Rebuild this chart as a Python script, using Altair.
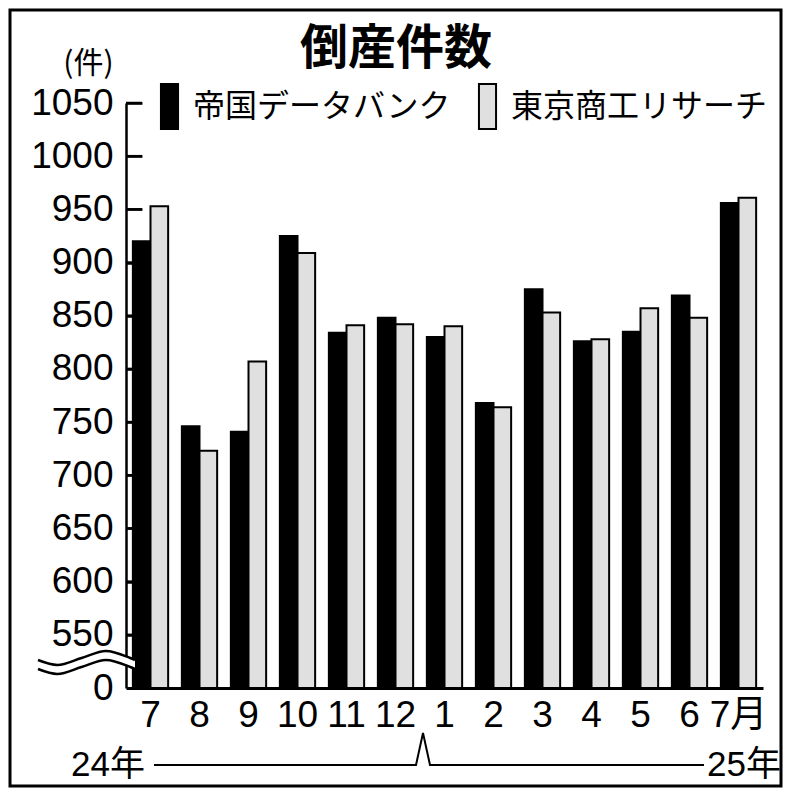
import altair as alt
import pandas as pd

# ---- data ----
months = ["7", "8", "9", "10", "11", "12", "1", "2", "3", "4", "5", "6", "7月"]
tdb = [920, 746, 741, 925, 834, 848, 830, 768, 875, 826, 835, 869, 956]
tsr = [953, 723, 807, 909, 841, 842, 840, 764, 853, 828, 857, 848, 961]
series_names = ["帝国データバンク", "東京商工リサーチ"]
series_colors = ["#000000", "#e0e0e0"]
tick_values = [500, 550, 600, 650, 700, 750, 800, 850, 900, 950, 1000, 1050]
title_text = ["倒産件数"]
unit_text = "(件)"
year_texts = ["24年", "25年"]

NUM_FONT = "Liberation Sans, Noto Sans CJK JP"
JP_FONT = "Noto Sans CJK JP"

W, H = 637, 585

rows = []
for i, m in enumerate(months):
    rows.append({"month": m, "series": series_names[0], "value": tdb[i]})
    rows.append({"month": m, "series": series_names[1], "value": tsr[i]})
df = pd.DataFrame(rows)

yscale = alt.Scale(domain=[500, 1050], nice=False, zero=False)

bars = alt.Chart(df).mark_bar(stroke="black", strokeWidth=2).encode(
    x=alt.X("month:N", sort=months,
            scale=alt.Scale(paddingInner=0.28, paddingOuter=0.14),
            axis=alt.Axis(title=None, labelAngle=0, ticks=False, domainWidth=3,
                          domainColor="black", labelFont=NUM_FONT, labelFontSize=37,
                          labelColor="black", labelPadding=9)),
    xOffset=alt.XOffset("series:N", sort=series_names),
    y=alt.Y("value:Q", scale=yscale,
            axis=alt.Axis(values=tick_values, ticks=False, grid=False, domainWidth=2.5,
                          domainColor="black", labelFont=NUM_FONT, labelFontSize=37,
                          labelColor="black", labelPadding=13, orient="left",
                          labelExpr="datum.value == 500 ? '0' : format(datum.value, 'd')",
                          title=unit_text, titleAngle=0, titleX=-38, titleY=-40,
                          titleAlign="center", titleBaseline="middle",
                          titleFont=JP_FONT, titleFontSize=30, titleFontWeight="normal",
                          titleColor="black")),
    y2=alt.datum(500),
    color=alt.Color("series:N",
                    scale=alt.Scale(domain=series_names, range=series_colors),
                    legend=alt.Legend(title=None, orient="none", legendX=20, legendY=-20,
                                      direction="horizontal",
                                      symbolType="M-0.38,-1H0.38V1H-0.38Z",
                                      symbolSize=2025, symbolStrokeColor="black",
                                      symbolStrokeWidth=2, symbolOpacity=1,
                                      labelFont=JP_FONT, labelFontSize=32,
                                      labelColor="black", labelOffset=0,
                                      labelLimit=400, columnPadding=14, padding=0)),
)

# inward ticks: a label-less right-oriented axis moved onto the left edge,
# so its ticks point into the plot
ticks_df = pd.DataFrame({"value": tick_values[1:]})
ticks_df["x0"] = 0
ticks_df["x1"] = 16
ticks = alt.Chart(ticks_df).mark_point(opacity=0).encode(
    y=alt.Y("value:Q", scale=yscale,
            axis=alt.Axis(orient="right", values=tick_values[1:], offset=-W, tickSize=16,
                          tickWidth=2.5, tickColor="black", labels=False, domain=False,
                          grid=False, title=None)),
)
tick_rules = alt.Chart(ticks_df).mark_rule(color="black", strokeWidth=2.5).encode(
    y=alt.Y("value:Q", scale=yscale, axis=None),
    x=alt.X("x0:Q", scale=None),
    x2="x1:Q",
)

# axis break symbol (decoration)
wave_df = pd.DataFrame({
    "px": [-88, -68.6, -44.4, -20.1, 4.2, 9],
    "top": [557, 562, 555, 548, 555, 557],
})
wave_df["bot"] = wave_df["top"] + 9
wave_fill = alt.Chart(wave_df).mark_area(color="white", interpolate="monotone").encode(
    x=alt.X("px:Q", scale=None), y=alt.Y("top:Q", scale=None), y2="bot:Q")
wave_top = alt.Chart(wave_df).mark_line(color="black", strokeWidth=2.5, interpolate="monotone").encode(
    x=alt.X("px:Q", scale=None), y=alt.Y("top:Q", scale=None))
wave_bot = alt.Chart(wave_df).mark_line(color="black", strokeWidth=2.5, interpolate="monotone").encode(
    x=alt.X("px:Q", scale=None), y=alt.Y("bot:Q", scale=None))

# year bracket (decoration)
br_df = pd.DataFrame({"px": [28, 290, 297, 304, 578], "py": [662, 662, 630, 662, 662],
                      "o": [0, 1, 2, 3, 4]})
bracket = alt.Chart(br_df).mark_line(color="black", strokeWidth=2).encode(
    x=alt.X("px:Q", scale=None), y=alt.Y("py:Q", scale=None), order="o:Q")

yr_df = pd.DataFrame({"t": year_texts, "px": [-18, 618], "py": [662, 662]})
years = alt.Chart(yr_df).mark_text(font=NUM_FONT, fontSize=35, color="black",
                                   baseline="middle", align="center").encode(
    x=alt.X("px:Q", scale=None), y=alt.Y("py:Q", scale=None), text="t:N")

title = alt.Chart(pd.DataFrame({"t": title_text})).mark_text(
    font=JP_FONT, fontSize=48, fontWeight="bold", color="black",
    baseline="middle", align="center").encode(
    x=alt.value(270), y=alt.value(-53), text="t:N")

frame = alt.Chart(pd.DataFrame({"a": [0]})).mark_rect(
    fill="transparent", stroke="black", strokeWidth=3).encode(
    x=alt.value(-116), x2=alt.value(W + 18), y=alt.value(-93), y2=alt.value(H + 98))

chart = alt.layer(bars, ticks, tick_rules, wave_fill, wave_top, wave_bot, bracket, years,
                  title, frame).resolve_axis(
    y="independent"
).properties(
    width=W, height=H,
    background="white",
    padding={"left": 118, "top": 95, "right": 20, "bottom": 100},
    autosize=alt.AutoSizeParams(type="none"),
).configure_view(stroke="transparent", strokeWidth=0)

chart.save("out.html", embed_options={"renderer": "svg", "actions": False})
